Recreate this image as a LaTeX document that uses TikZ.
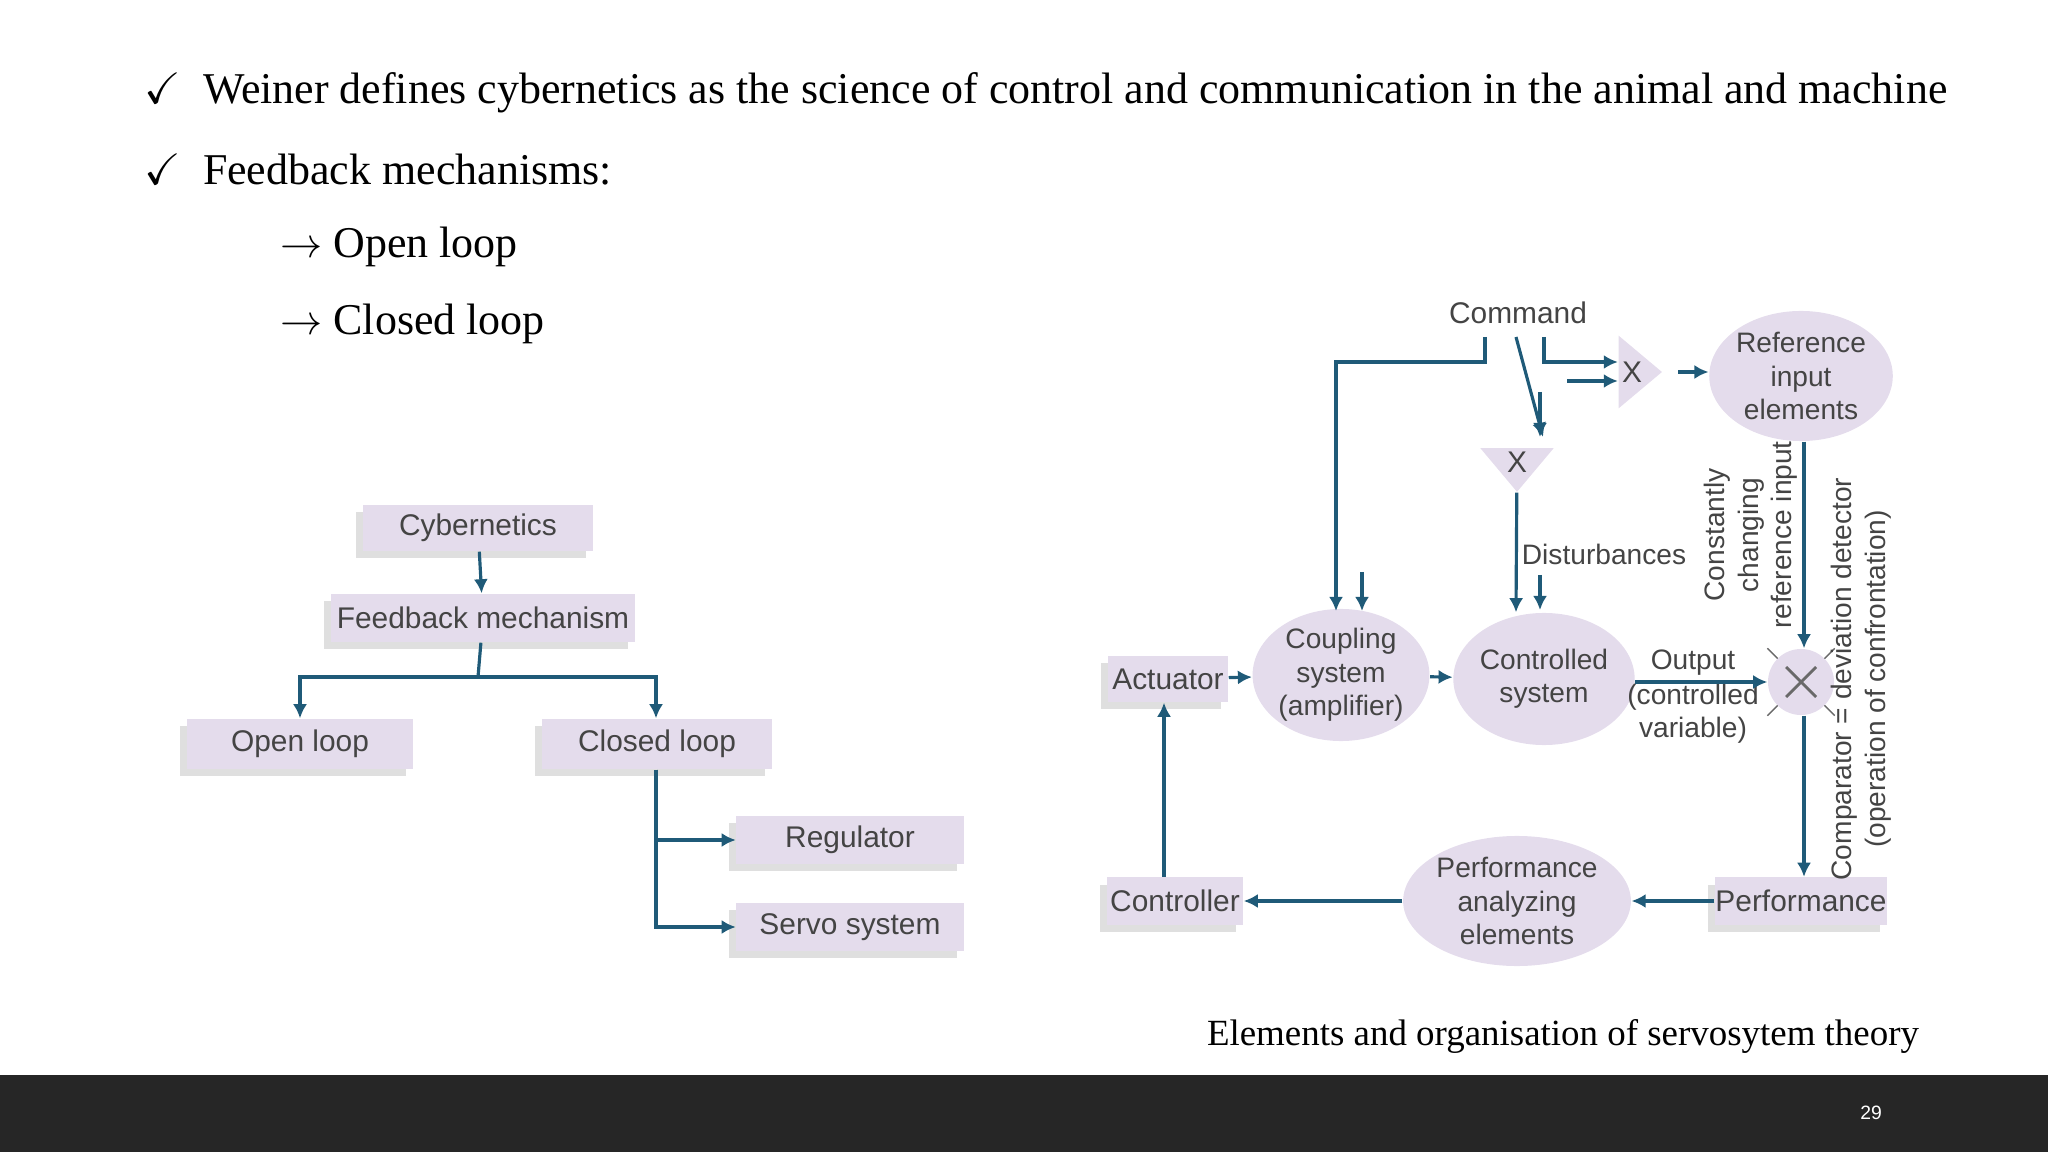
\documentclass[tikz,border=0pt]{standalone}
\usepackage{amssymb}
\usepackage{fontspec}
\setmainfont{Liberation Serif}
\newfontfamily\diafont{Liberation Sans}
\usetikzlibrary{positioning,arrows.meta,shapes.geometric,shapes.misc,shadows}
\definecolor{lav}{HTML}{E4DCEC}
\definecolor{teal}{HTML}{1F5A78}
\definecolor{txt}{HTML}{444444}
\definecolor{bar}{HTML}{262626}
\tikzset{
  box/.style={rectangle, fill=lav, text=txt, font=\diafont\fontsize{8.5}{10}\selectfont,
    drop shadow={shadow xshift=-2pt, shadow yshift=-2pt, fill=black!25}, inner sep=0pt},
  blob/.style={ellipse, fill=lav, text=txt, align=center, inner sep=0pt,
    font=\diafont\fontsize{8}{9.5}\selectfont},
  tri/.style={isosceles triangle, isosceles triangle apex angle=80, fill=lav, text=txt,
    inner sep=1pt, font=\diafont\fontsize{8.5}{10}\selectfont},
  lbl/.style={text=txt, align=center, font=\diafont\fontsize{8}{9.5}\selectfont},
  arr/.style={draw=teal, line width=0.9pt, -{Latex[length=4pt,width=4pt]}},
  ln/.style={draw=teal, line width=0.9pt}
}
\begin{document}
\begin{tikzpicture}[x=0.01cm, y=-0.01cm]
  \useasboundingbox (0,0) rectangle (2048,1152);

  %Kopfzeilen
  \node[anchor=west, font=\fontsize{12.5}{15}\selectfont] (b1) at (132,93)
    {$\checkmark$\ \ Weiner defines cybernetics as the science of control and communication in the animal and machine};
  \node[anchor=west, font=\fontsize{12.5}{15}\selectfont] (b2) at (132,170) {$\checkmark$\ \ Feedback mechanisms:};
  \node[anchor=west, font=\fontsize{12.5}{15}\selectfont] (b3) at (268,247) {$\rightarrow$ Open loop};
  \node[anchor=west, font=\fontsize{12.5}{15}\selectfont] (b4) at (268,324) {$\rightarrow$ Closed loop};

  %Baum links
  \node[box, minimum width=2.3cm, minimum height=0.46cm] (cyb) at (478,528) {Cybernetics};
  \node[box, minimum width=3.04cm, minimum height=0.48cm] (fb) at (483,618) {Feedback mechanism};
  \node[box, minimum width=2.26cm, minimum height=0.5cm] (open) at (300,744) {Open loop};
  \node[box, minimum width=2.29cm, minimum height=0.5cm] (closed) at (657,744) {Closed loop};
  \node[box, minimum width=2.27cm, minimum height=0.48cm] (reg) at (850,840) {Regulator};
  \node[box, minimum width=2.27cm, minimum height=0.48cm] (servo) at (850,927) {Servo system};
  \coordinate (junc) at (478,677);

  \draw[arr] (cyb) -- (fb);
  \draw[ln] (fb) -- (junc);
  \draw[arr] (junc) -| (open);
  \draw[arr] (junc) -| (closed.north -| 656,0);
  \foreach \t in {reg,servo} {
    \draw[arr] (closed.south -| 656,0) |- (\t);
  }

  %Servosystem rechts
  \node[lbl, font=\diafont\fontsize{8.5}{10}\selectfont] (cmd) at (1518,313) {Command};
  \node[blob, minimum width=1.7cm, minimum height=1.3cm] (ref) at (1801,376) {Reference\\input\\elements};
  \node[tri, minimum height=0.42cm] (xr) at (1632,372) {X};
  \node[tri, shape border rotate=-90, minimum height=0.42cm] (xd) at (1517,462) {X};
  \node[box, minimum width=1.2cm, minimum height=0.46cm] (act) at (1168,679) {Actuator};
  \node[blob, minimum width=1.64cm, minimum height=1.32cm] (coup) at (1341,675) {Coupling\\system\\(amplifier)};
  \node[blob, minimum width=1.64cm, minimum height=1.32cm] (ctrl) at (1544,679) {Controlled\\system};
  \node[circle, fill=lav, minimum size=0.66cm, cross out, draw=txt!80, inner sep=0pt] (cmp) at (1801,682) {};
  \node[circle, fill=lav, minimum size=0.66cm] (cmpbg) at (1801,682) {};
  \draw[txt!80, line width=0.8pt] (1786,667) -- (1816,697) (1786,697) -- (1816,667);
  \node[box, minimum width=1.72cm, minimum height=0.47cm] (perf) at (1801,901) {Performance};
  \node[blob, minimum width=1.88cm, minimum height=1.3cm] (pan) at (1517,901) {Performance\\analyzing\\elements};
  \node[box, minimum width=1.36cm, minimum height=0.47cm] (con) at (1175,901) {Controller};

  \node[lbl] (dist) at (1604,554) {Disturbances};
  \node[lbl] (out) at (1693,663) {Output};
  \node[lbl] (var) at (1693,714) {(controlled\\variable)};
  \node[lbl, rotate=90] (chg) at (1751,535) {Constantly\\changing\\reference input};
  \node[lbl, rotate=90] (dev) at (1861,679) {Comparator = deviation detector\\(operation of confrontation)};

  %Verbindungen
  \coordinate (c1) at (1485,337);
  \coordinate (c2) at (1516,337);
  \coordinate (c3) at (1544,337);
  \draw[arr] (c1) |- (1336,362) -- (1336,611);
  \draw[arr] (1362,572) -- (1362,611);
  \draw[arr] (c2) -- (xd.east |- 0,437);
  \draw[arr] (1540,392) -- (1540,437);
  \draw[arr] (c3) |- (xr.west |- 0,362);
  \draw[arr] (1567,381) -- (xr.west |- 0,381);
  \draw[arr] (1678,372) -- (ref.west |- 0,372);
  \draw[arr] (xd) -- (ctrl.north -| 1516,0);
  \draw[arr] (1540,575) -- (1540,610);
  \draw[arr] (ref.south -| 1804,0) -- (cmp.north -| 1804,0);
  \draw[arr] (act) -- (coup);
  \draw[arr] (coup) -- (ctrl);
  \draw[arr] (ctrl.east |- 0,682) -- (cmp.west |- 0,682);
  \draw[arr] (cmp.south -| 1804,0) -- (perf.north -| 1804,0);
  \draw[arr] (perf) -- (pan);
  \draw[arr] (pan) -- (con);
  \draw[arr] (con.north -| 1164,0) -- (act.south -| 1164,0);

  \node[anchor=center, font=\fontsize{10.5}{12}\selectfont] (cap) at (1563,1036) {Elements and organisation of servosytem theory};

  %Fusszeile
  \fill[bar] (0,1075) rectangle (2048,1152);
  \node[white, font=\diafont\fontsize{5.5}{6}\selectfont] (pg) at (1871,1113) {29};
\end{tikzpicture}
\end{document}
